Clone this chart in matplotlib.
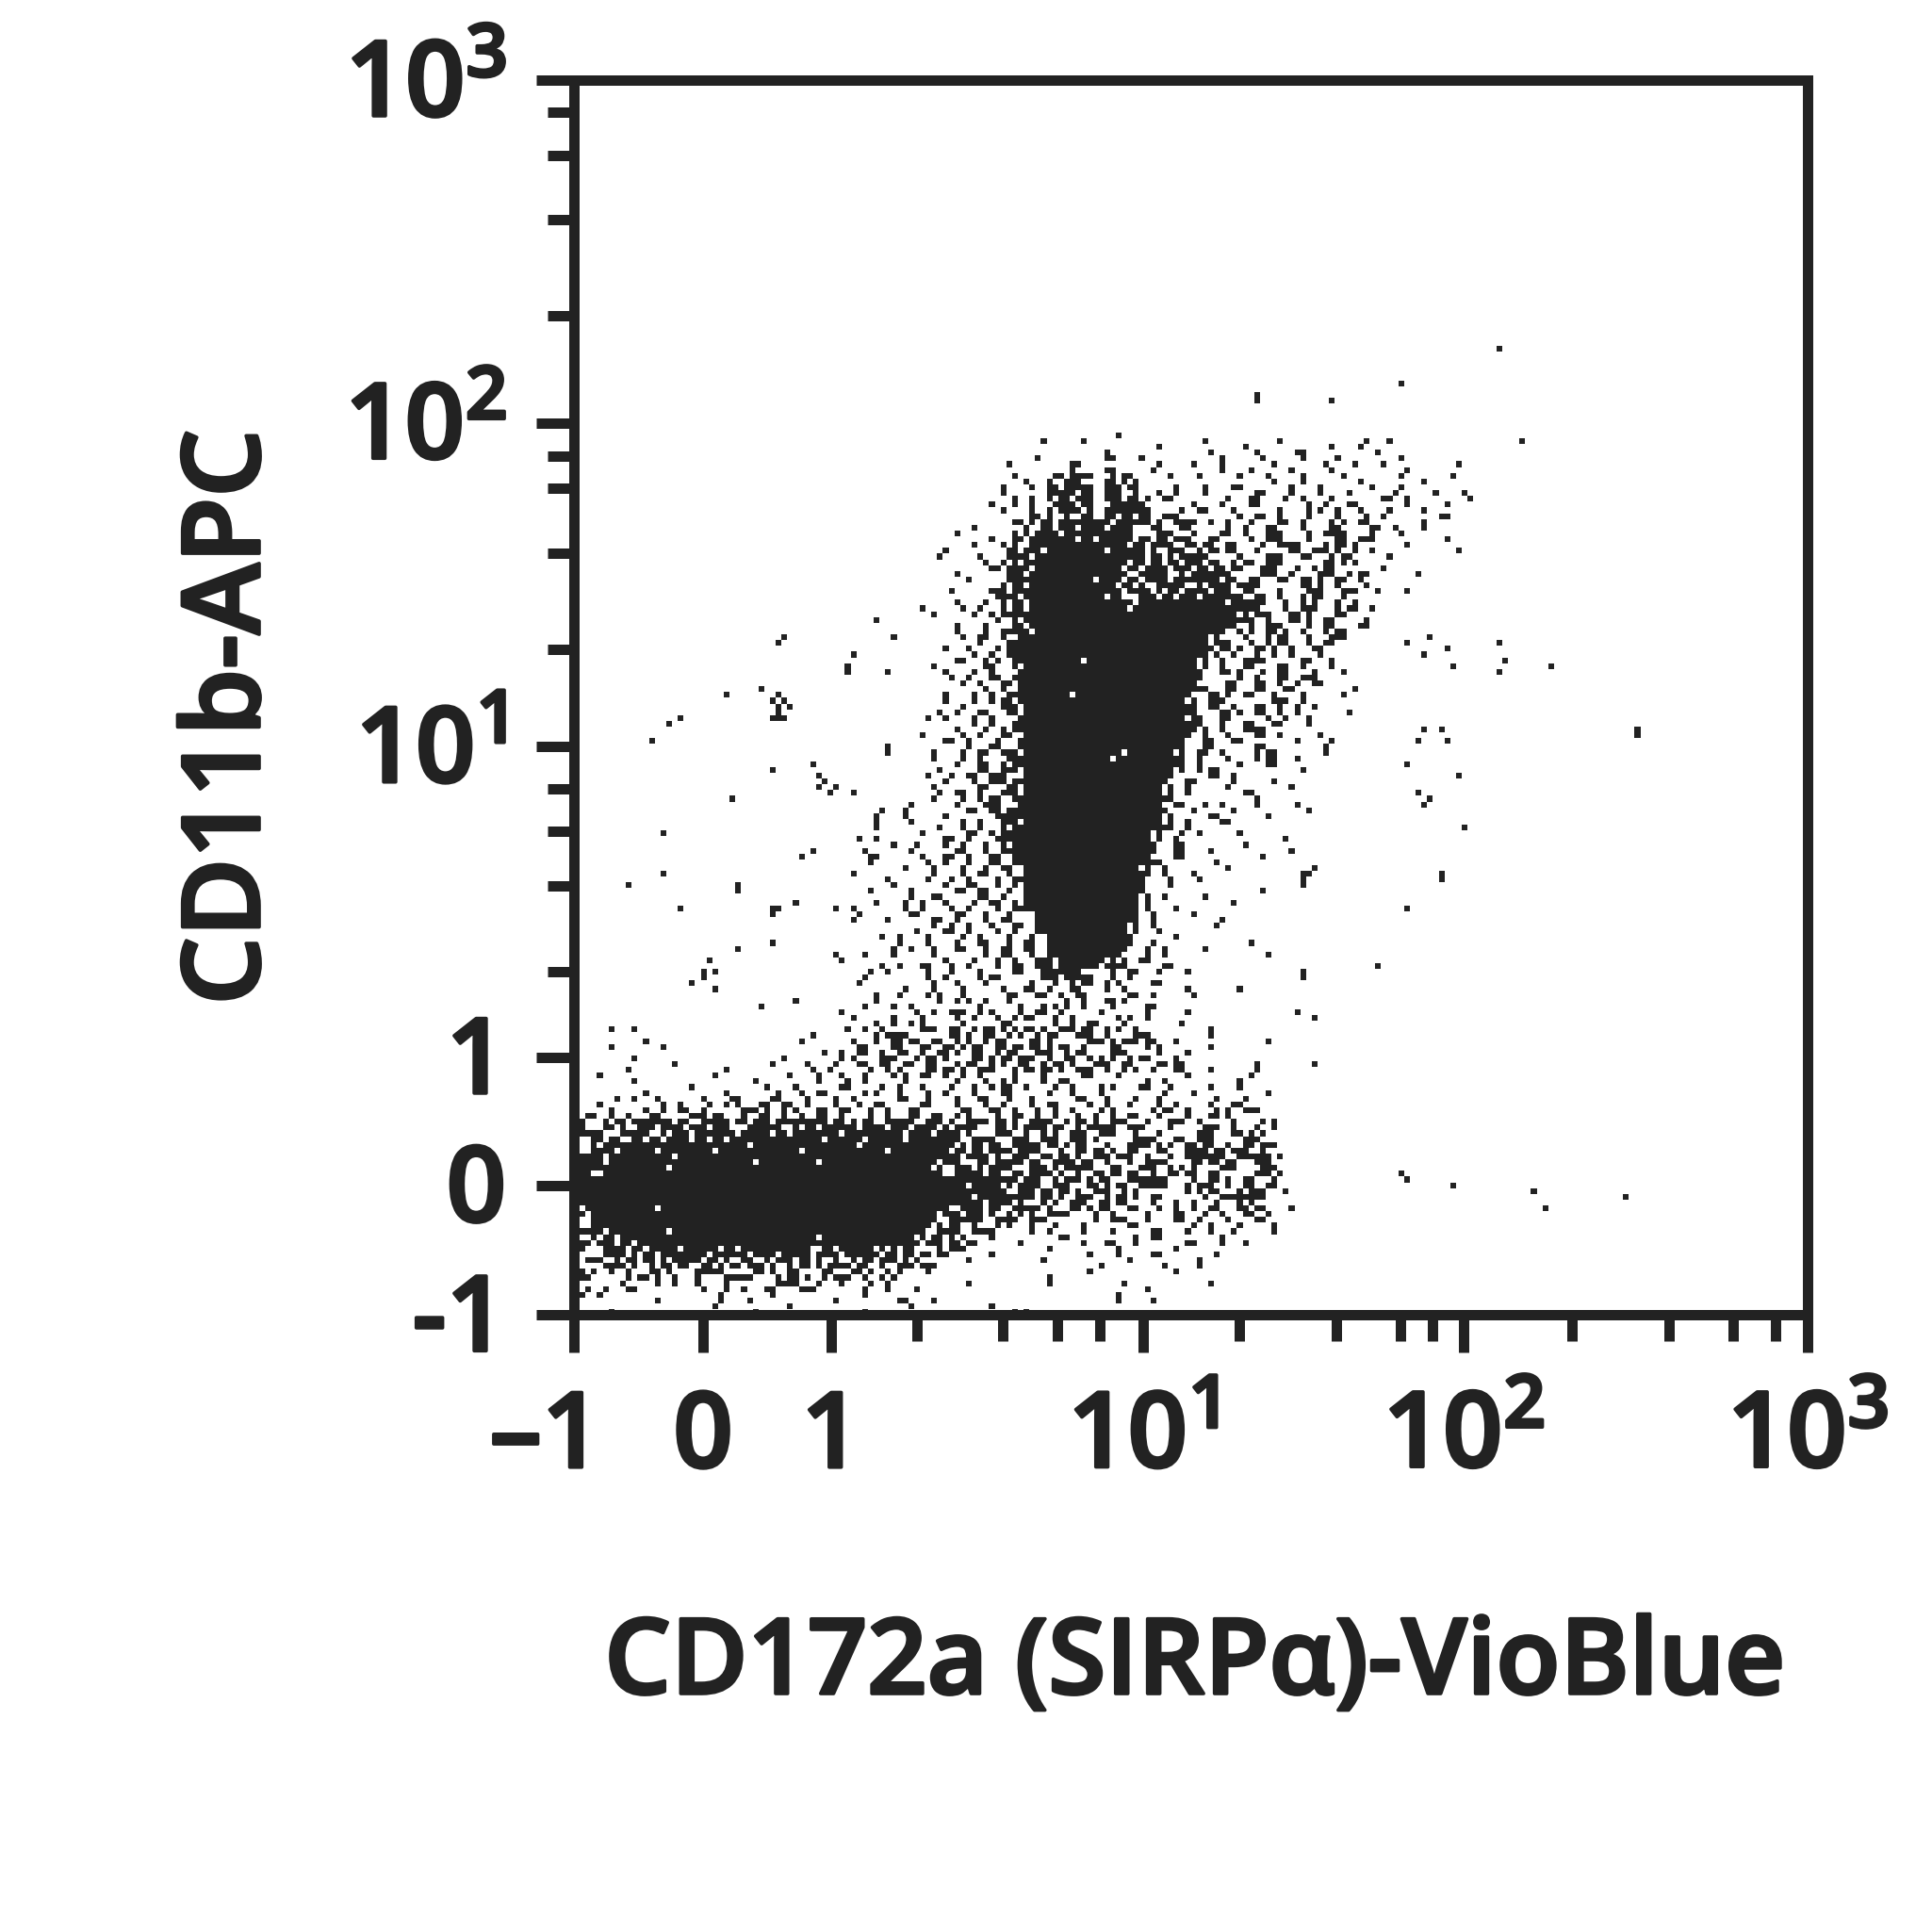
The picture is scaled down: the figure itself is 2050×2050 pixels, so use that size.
import numpy as np
import matplotlib
matplotlib.use("Agg")
import matplotlib.pyplot as plt
import matplotlib.patheffects as pe
from matplotlib.colors import ListedColormap
from matplotlib.transforms import ScaledTranslation

INK = "#222222"
FONT = "Open Sans"
plt.rcParams["font.family"] = [FONT, "DejaVu Sans"]
plt.rcParams["font.weight"] = "semibold"
plt.rcParams["mathtext.fontset"] = "custom"
plt.rcParams["mathtext.rm"] = FONT + ":semibold"
plt.rcParams["mathtext.default"] = "rm"

x_title = "CD172a (SIRPα)-VioBlue"
y_title = "CD11b-APC"

# channel position of each axis tick (axes run over 0-1000 display channels)
x_major_pos = [0, 104.7, 208.6, 461.4, 721.2, 1000]
x_minor_pos = [278, 347.6, 391.9, 426.3, 539.3, 618, 670, 696, 809, 888, 940, 974]
y_major_pos = [0, 104.8, 208.7, 460.6, 722.6, 1000]
y_minor_pos = [278.1, 347.6, 391.9, 426.3, 539.3, 617.1, 669.8, 695.7, 809.6, 887.4, 939.3, 974.4]
x_major_labels = ["–1", "0", "1", r"$10^{1}$", r"$10^{2}$", r"$10^{3}$"]
y_major_labels = ["-1", "0", "1", r"$10^{1}$", r"$10^{2}$", r"$10^{3}$"]

# Event occupancy. One string per row of 2x2 blocks, top first.
# "c:hex" = blocks from column c (bit 1,2 top left/right, 4,8 bottom left/right); "a-b" = solid columns.
first_row = 23
rows_upper = [
"80:1", "", "", "71:2", "59:5 65:8", "", "", "47:4",
"40:2 44:1 50:8 54:2 58:4 61:1 65:8 68:6 70:2 82:1",
"40:4 46:d 49:4 55:1 56:4 59:9 62:2 63:5 66:4 69:2 71:8",
"37:2 43:7 46:c 50:6 53:2 56:5 58:8 60:2 62:4 65:9 67:2 70:1 72:4 76:2",
"38:14 41:69f3 46:ea9 51:2 54:1 57:2 60:9 63:5 66:2 68:4 71:2 73:8 76:1",
"37:5 39:2 41:fe7f 46:f5b 50:8 52:5 54:a 57:3 59:c 62:5 64:a 67:4 69:1 71:6 74:8 77:4",
"36:4 38:5a 41:9f6f 46:bdf6 51:3 53:8 56:6 58:a5 61:2 63:9 65:6 67:c 70:3 72:5 75:8 77:2",
"37:1 39:a4 41:5b3e 46:fb7f 51:c6 54:3 57:9 59:c 61:5 63:a2 66:5 68:9 70:6 73:2 75:c",
"34:8 38:36 40:a5f7 44:ff9b 47:c7 49:3e 52:b7 55:1a 58:6 60:c3 63:5 65:a6 68:3c 71:4 73:a",
"33:1 36:4 38:d9 40:ffe7 44:fbff 48:5c 50:a7 52:c6 55:c3 58:9 60:f5 63:a 65:3f 68:c5 71:2 75:8",
"32:4 34:2 37:9 38:5e 40:7fff 44:ffbf 48:e5 50:7b 52:c3 54:6d 56:a5 59:6 61:3f 64:c5 66:7a 69:4 72:1 76:8",
"31:2 35:9 37:6 38:7d 40:ffff 44:ffff 47:db 49:5f 51:a6 53:f7 55:c 57:6c 60:f5 63:3 65:ea 67:9 70:2",
"33:4 36:3 37:a 38:f9 40:ffff 44:fffd 48:3e 50:f5 52:b9 54:fe 56:d3 59:af 62:6 64:9f 67:4c 70:1 73:4",
"34:1 37:6 38:fb 40:ffff 44:fe 46:f9 48:76 50:bd 52:f3 54:7f 56:e9 58:e5 61:3 63:fa 66:7 68:9",
"32:2 36:b 37:d 38:7f 40:ffff 44:ff 46:b5 48:3a 49:56 51:e9 53:fb 55:ef 57:c 58:3c 61:5 63:6f 66:a3 69:2 72:1",
"30:4 33:9 35:6 37:5 38:fa 40-46 47:f9ff 51:ffff 55:fd 57:f 58:f7 61:a 63:d5 66:5e 69:4",
"26:4 31:1 34:2 36:9 37:3 38:7f 40-54 55:ff 57:d 58:d3 60:5 62:fa 65:c3 68:8",
"33:5 35:a 37:c 38:f6 40-54 55:f7 57:9 58:a 60:f9 63:6 65:7c 68:3",
"17:8 18:1 27:2 33:2 35:7 37:9 38:ef 40-53 54:fa 56:c 58:9 60:5f 63:a 65:e3 72:4 74:1 80:4",
"24:4 32:1 34:9 36:6 37:a 38:f 39-53 54:f9 56:3 57:6 59:7a 62:5 64:b 73:8 75:2",
]
rows_middle = [
"23:8 31:4 33:3 35:a 36:6 38:7 39-43 44:e 45-53 54:a 56:5 58:f3 61:c 63:7 65:a 76:4 80:2 84:8",
"23:2 27:1 32:9 34:6 36:d 38:e 39-53 54:5 56:3a 59:6 61:f 63:c5 66:2 80:1",
"16:4 33:2 35:9 37:7 38:a 39-53 54:c 56:a5 59:f 61:96 64:3 67:8",
"13:1 17:6 18:4 32:5 34:a 36:5 37:e 38:b 39-42 43:e 44-52 53:9 55:f6 58:3 60:ac 63:5 66:2",
"17:a 18:2 31:8 33:6 35:c 37:b 38:5 39-52 53:f 55:3c 57:9 59:f 61:5a 64:1 67:4",
"8:4 9:1 17:3 18:1 30:2 32:1 34:a 36:5 38:e 39-52 53:e5 56:7 58:c 60:96 63:a",
"30:4 33:9 35:6 37:d 38:3 39-52 53:7a 56:9 58:3f 61:4 64:8 73:2 75:1 92:5",
"6:2 27:4 32:3 34:5 36:e 38:a 39-51 52:f 54:a5 57:3 59:c 62:2 65:6 73:1 75:2",
"27:1 31:5 33:a 35:7 37:b 38:d 39-45 46:7 47:d 48-51 52:e 54:7 56:9 59:5f 62:8 65:1",
"17:4 20:2 31:8 33:1 35:f 37:d 38:7 39-51 52:b 54:5c 57:2 60:3 63:4 72:1",
"21:9 30:2 32:6 34:b 36:f5 38:c 39-50 51:7 53:c 55:3 57:5 60:8 76:2",
"21:1 22:6 24:4 31:9 33:c 35:7 37:e 38:5 39-50 51:a 53:5 56:2 58:c 62:1 73:4",
"13:2 29:4 31:1 33:6 35:9 36:f 38:b 39-50 51:3c 54:8 56:4 59:5 62:8 73:8 74:1",
"26:6 28:a 32:4 34:3 36:b 37:e 38:f 39-50 51:9 53:2 55:c 57:1 60:4 63:2",
"26:5 29:1 31:8 33:a 35:5 37:7 38:d 39-50 51:e 53:5 56:3 77:4",
"7:2 24:8 26:4 30:1 32:c 34:7 36:9 37:f 38-49 50:a 52:6 54:1 57:2 61:8",
"20:8 25:4 27:2 29:6 32:1 33:e 35:a 37:d 38-49 50:5 52:f 55:4 58:1 62:4",
"19:2 25:a 26:1 30:9 32:7 34:5 36:f 38-49 50:c 52:3 55:8 59:2",
"7:8 24:4 28:2 31:5 33:a 35:e 37:b 39-48 49:e 51:5 53:8 56:2 63:c 64:1 75:4",
"4:8 14:4 27:9 30:2 32:6 34:d 36:a 38:7 39-48 49:5 51:a 54:1 63:5 75:1",
"14:1 25:2 29:5 31:c 33:3 35:f 37:6 39-48 49:9 51:4 54:8 59:2",
"9:4 17:c 19:1 22:8 24:4 26:1 28:a 30:5 32:9 34:6 36:b 38:d 39-48 49:a 52:4 57:1 72:4",
"17:1 24:6 27:4 29:3 31:c 33:7 35:a 37:e 40-47 48:f 50:5 53:2 56:4",
"29:8 31:1 32:e 34:5 36:9 38:7 40-47 48:a 50:9 55:2",
"17:4 26:2 28:5 30:a 33:6 35:d 37:a 39:e 41-47 48:5 50:4 52:1 58:8",
"14:1 22:8 25:4 27:a 29:1 31:5 33:3 35:a 37:f 39:b 41-46 47:7 49:a 51:5 54:2 60:4",
"11:2 23:1 26:8 28:4 30:c 32:9 34:6 36:a 38:d 40:f5 42-44 45:7 46:e 47:e 49:3 51:c 69:8",
"11:5 12:1 25:6 27:1 30:a 32:6 35:5 36:c 38:3 40:a 41:f 42:b 43:f 44:c 46:a 48:7 50:2 53:1 63:5",
"10:1 12:4 24:2 28:8 31:5 33:9 35:2 37:4 39:e 41:6 43:d 44:3 46:5 47:9 50:3 53:4 57:8",
]
rows_lower = [
"19:4 26:5 28:1 31:a 33:6 35:8 37:a 40:3 42:9 44:5 46:c 48:3 50:1 53:2 30:2 34:4 38:1 43:2 47:8",
"16:1 23:4 27:2 29:9 31:4 33:c 35:5 38:a 40:e 42:6 44:1 46:2 49:a 53:4 62:8 25:1 32:8 36:4 41:2 45:8 50:1",
"24:1 27:a 30:5 33:9 36:2 37:c 39:3 41:a 43:5 45:4 47:9 49:2 52:8 64:1 26:4 29:4 34:2 38:1 44:8 48:1",
"3:1 5:1 20:8 23:2 26:6 28:c 31:1 33:5 35:a 38:9 40:6 42:3 44:f 47:1 49:c 55:5 25:1 27:c 30:3 32:a 34:6 36:5 37:9 39:3 41:c 43:9 46:5 48:a",
"3:4 6:1 7:8 19:2 24:9 26:1 29:3 32:c 34:9 37:5 39:a 41:5 44:6 46:a 48:3 50:9 55:4 60:1 25:4 27:a 28:5 30:c 31:3 33:9 35:6 36:a 38:c 40:5 42:c 45:3 47:6 49:a 52:1",
"5:4 18:4 21:2 23:5 26:a 29:8 31:6 33:1 35:5 37:e 40:3 42:a 45:8 48:4 50:2 53:1 24:6 25:1 27:c 28:3 30:9 32:5 34:a 36:6 38:9 39:c 41:5 43:6 44:9 46:a 47:3 49:c 52:4",
"4:8 8:2 13:4 17:1 20:9 22:6 24:2 27:5 30:a 32:c 34:3 37:1 39:d 41:6 43:9 46:5 48:9 52:f 55:4 59:5 64:1 25:9 26:2 28:6 29:1 31:5 33:9 35:c 36:5 38:6 40:a 42:5 44:c 45:3 47:a 50:6 51:1",
"2:1 5:4 12:1 15:8 18:2 21:5 23:9 25:5 27:2 28:a 30:3 32:1 33:6 35:9 37:4 38:5 40:a 42:c 44:3 47:1 49:8 51:4 53:1 57:8 58:2",
"6:4 10:1 13:4 16:2 17:8 19:9 21:c 23:3 25:4 26:6 28:5 30:9 32:6 34:a 36:1 37:f 39:1 41:6 43:5 45:a 46:2 49:3 51:6 53:8 55:1 57:2 60:4",
"0:1 2:4 3:2 5:1 7:9 9:4 11:9 13:6 14:5 16:c 17:3 18:c 20:5 22:a 24:9 26:c 28:3 30:e 33:5 35:b 37:6 39:a 41:c 43:2 44:9 46:5 48:6 50:a 52:4 55:6 57:c 58:1",
"0:4 1:c 3:5 4:8 6:9 7:6 9:3 10:c 11:5 12:c 14:a 15:3 16:e 18:5 19:9 21:f 23:7 25:a 27:5 29:f 31:c 33:6 34:5 36:b 38:d 40:5 41:a 43:9 45:6 46:a 48:c 50:9 51:3 53:5 55:e 56:a 58:3 59:1",
"0:f 2:a6 4:5b 6:fb 8:d7 10:c7 12:f5 14:3e 16:fe 18:37 20:fb 22:ed 24:5f 26:cb 28:f9 30:e7 32:6c 34:f3 36:a5 38:5e 40:f9 42:6a 44:9d 46:e3 48:c 49:6 51:a 52:3 54:9 55:c 57:5 59:6 60:a",
"0:7 1:b5c3 5:f9 7:6e 9:fa 11:7f 13:b 14:ef 16:f 17:ed 19:ff 21:7f 23:ef 25:bf 27:f5 29:ff 31:e 32:f5 34:9c 36:6 37:3c 39:5a 41:e 43:f5 45:6 46:3 48:a 49:c 50:6 52:c 54:f5 57:3e 59:6",
"0:5 1:ae 3:7f 5:ff 7:bf 9:ff 11:fb 13:ff 15:ef 17:ff 19:7f 21:ff 23:fd 25:ff 27:bf 29:ff 31:f7 33:ea 35:5f 37:cb 39:f5 41:36 43:a5 45:c 46:9 48:f3 50:a6 53:fe 55:96 57:c7 59:a 60:3",
"0:b 1:f5 3-7 8:d 9-14 15:7 16-20 21:b 22-29 30:f7 32:f5 34:3f 36:ac 38:f9 40:69 42:f6 44:c3 46:53 48:5a 50:c6 53:b7 55:f9 57:6 58:3 59:f5 61:1",
"0:e 1:7b 3-7 8:e 9-29 30:f 31:e 33:fd 35:5e 36:f3 38:ca 40:f6 42:6b 44:3c 46:a5 48:c3 50:5a 52:6 53:e 55:c3 57:1 59:e7 61:4 71:8",
"0-31 32:ff 34:bf 36:fb 38:9f 40:5a 42:e3 44:a6 46:5c 48:3f 50:f5 53:6c 55:7a 58:f 60:e 72:1 76:4",
"0-31 32:ff 34:7f 36:fd 38:ef 40:a5 42:7a 44:c3 46:5e 48:a 50:c 53:19 55:3c 57:ee 59:f 61:2 83:1 91:4",
"0:7 1-6 7:b 8-30 31:f7 33:bf 35:5f 37:3e 39:c6 41:6 43:f9 45:a5 47:3c 50:9 52:5a 55:e 57:a6 59:c 62:4 84:4",
"0:7 1:a 2-29 30:f5 32:bd 34:f5 36:9e 38:6a 40:c3 42:3 45:5a 47:c 49:a 52:f 54:6 56:9 58:3c 60:1",
"0:d 1:e7 3-7 8:b 9-28 29:f7 31:ae 33:5a 35:c6 37:2 39:a 41:6 44:5 46:8 48:3 50:c 53:6 55:5 57:6 60:a",
"0:9 1:6 2:e 3:5f 5:b 6-20 21:e 22-28 29:d 30:9f 32:a6 34:c 36:1 38:8 42:3 44:4 46:c 48:a 50:3 53:c 56:5 58:4",
"0:7 2:a 3:f5 5:7e 7:bf 9:ef 11:7d 13:fe 15:bf 17:7f 19:f5 21:ed 23:bf 25:f6 27:ea 29:5c 31:a6 33:3 36:4 41:1 44:8 47:5 50:c 52:1 55:8",
"0:5 1:39 3:e6 5:5b 7:a6 9:f3 11:e9 13:96 15:d6 17:6b 19:a5 21:5e 23:c9 25:7a 27:3e 29:6c 31:4 34:1 40:2 45:8 48:1 51:4 54:5",
"0:a 1:6 3:1a 5:86 7:59 10:a3 12:3c 14:c6 16:19 18:a5 20:4a 22:9c 24:36 26:89 28:1 30:2 41:4 44:2 52:1",
"1:4 2:8 4:9 5:4 7:12 10:24 13:58 16:86 18:39 20:c1 23:1 25:6 27:5 29:8 34:1 41:1 47:2 49:8 55:1",
"0:2 2:1 7:4 12:a 15:4 17:1 22:8 25:1 28:c 31:4 47:5 50:4",
"0:1 3:4 12:1 15:8 18:2 25:4 29:1 36:1 38:4 39:4",
]

n_blocks = 107
grid = np.zeros((2 * n_blocks, 2 * n_blocks), dtype=int)
for r, line in enumerate(rows_upper + rows_middle + rows_lower, start=first_row):
    for seg in line.split():
        if ":" in seg:
            c0, hx = seg.split(":")
            for i, ch in enumerate(hx):
                v, c = int(ch, 16), int(c0) + i
                grid[2 * r, 2 * c] |= v & 1
                grid[2 * r, 2 * c + 1] |= (v >> 1) & 1
                grid[2 * r + 1, 2 * c] |= (v >> 2) & 1
                grid[2 * r + 1, 2 * c + 1] |= (v >> 3) & 1
        else:
            a, b = map(int, seg.split("-"))
            grid[2 * r:2 * r + 2, 2 * a:2 * b + 2] = 1

fig = plt.figure(figsize=(20.5, 20.5), dpi=100, facecolor="white")
W = 2050.0
ax = fig.add_axes([609 / W, 1 - 1395.3 / W, (1918 - 609) / W, (1395.3 - 85.5) / W])
edges = np.linspace(0, 1000, 2 * n_blocks + 1)
ax.pcolormesh(edges, edges, grid[::-1], cmap=ListedColormap(["white", INK]),
              vmin=0, vmax=1, antialiased=False, linewidth=0, rasterized=True)
ax.set_xlim(0, 1000)
ax.set_ylim(0, 1000)

px = 0.72
for s in ax.spines.values():
    s.set_linewidth(11 * px)
    s.set_color(INK)
    s.set_capstyle("projecting")
    s.set_zorder(5)

ax.set_xticks(x_major_pos)
ax.set_xticks(x_minor_pos, minor=True)
ax.set_yticks(y_major_pos)
ax.set_yticks(y_minor_pos, minor=True)
ax.set_xticklabels(x_major_labels)
ax.set_yticklabels(y_major_labels)
ax.tick_params(axis="x", which="major", length=40 * px, width=11 * px, color=INK, labelsize=80,
               labelcolor=INK, pad=27)
ax.tick_params(axis="y", which="major", length=40 * px, width=11 * px, color=INK, labelsize=80,
               labelcolor=INK, pad=23)
ax.tick_params(which="minor", length=28 * px, width=11 * px, color=INK)
up = ScaledTranslation(0, 4 / 100, fig.dpi_scale_trans)
for lab in ax.get_yticklabels():
    lab.set_transform(lab.get_transform() + up)
first_x = ax.get_xticklabels()[0]
first_x.set_transform(first_x.get_transform() + ScaledTranslation(-30 / 100, 0, fig.dpi_scale_trans))

t1 = fig.text(1268 / W, 1 - 1797 / W, x_title, fontsize=80, color=INK, ha="center", va="baseline")
t2 = fig.text(275 / W, 1 - 761 / W, y_title, fontsize=82, color=INK,
              rotation=90, ha="center", va="baseline", rotation_mode="anchor")
heavier = [pe.withStroke(linewidth=2.6, foreground=INK)]
for t in [t1, t2] + ax.get_xticklabels() + ax.get_yticklabels():
    t.set_path_effects(heavier)

fig.savefig("out.png", dpi=100, facecolor="white")
